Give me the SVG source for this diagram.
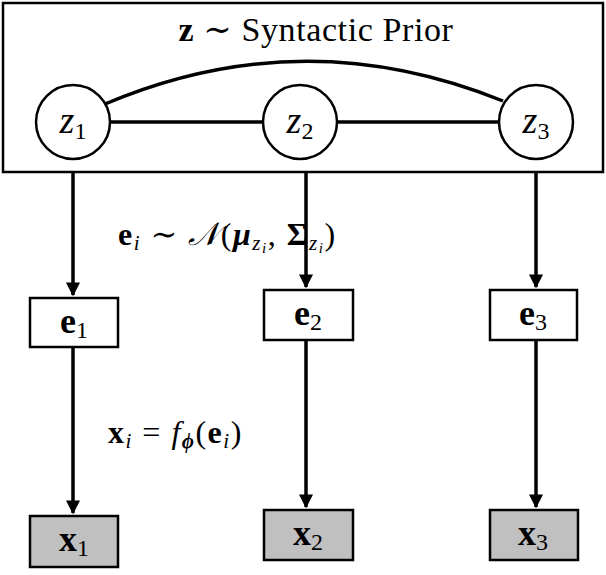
<svg xmlns="http://www.w3.org/2000/svg" width="606" height="575" viewBox="0 0 606 575">
<style>
text{font-family:"Liberation Serif","DejaVu Serif",serif;fill:#000}
.b{fill:#fff;stroke:#000;stroke-width:2.5}
.g{fill:#c0c0c0;stroke:#000;stroke-width:2.5}
.l{stroke:#000;stroke-width:3.5;fill:none}
.n{font-size:38px;font-style:italic}
.m{font-size:36px;font-weight:bold}
.s{font-size:24px}
.t{font-size:34px}
</style>
<defs><marker id="a" viewBox="0 0 10 10" refX="9" refY="5" markerWidth="4" markerHeight="4" orient="auto"><path d="M0,0L10,5L0,10z" fill="#000"/></marker></defs>
<rect x="3" y="3" width="600" height="169" fill="#fff" stroke="#000" stroke-width="2.5"/>
<text x="316" y="41" text-anchor="middle" class="t" letter-spacing="0.6"><tspan font-weight="bold">z</tspan> ∼ Syntactic Prior</text>
<g id="connectors">
<path class="l" d="M105,104 Q303,20 503,101"/>
<line class="l" x1="110" y1="122" x2="263" y2="122"/>
<line class="l" x1="337" y1="122" x2="499" y2="122"/>
<line class="l" x1="73" y1="172" x2="73" y2="295" marker-end="url(#a)"/>
<line class="l" x1="306" y1="172" x2="306" y2="287" marker-end="url(#a)"/>
<line class="l" x1="536" y1="172" x2="536" y2="287" marker-end="url(#a)"/>
<line class="l" x1="73" y1="347" x2="73" y2="513" marker-end="url(#a)"/>
<line class="l" x1="306" y1="340" x2="306" y2="507" marker-end="url(#a)"/>
<line class="l" x1="536" y1="340" x2="536" y2="507" marker-end="url(#a)"/>
</g>
<g id="z1"><circle class="b" cx="73" cy="122" r="37"/><text x="73" y="133" text-anchor="middle" class="n">z<tspan class="s" font-style="normal" dy="6">1</tspan></text></g>
<g id="z2"><circle class="b" cx="300" cy="122" r="37"/><text x="300" y="133" text-anchor="middle" class="n">z<tspan class="s" font-style="normal" dy="6">2</tspan></text></g>
<g id="z3"><circle class="b" cx="536" cy="122" r="37"/><text x="536" y="133" text-anchor="middle" class="n">z<tspan class="s" font-style="normal" dy="6">3</tspan></text></g>
<g id="e1"><rect class="b" x="30" y="298" width="88" height="49"/><text x="74" y="333" text-anchor="middle" class="m">e<tspan class="s" font-weight="normal" dy="5">1</tspan></text></g>
<g id="e2"><rect class="b" x="264" y="290" width="89" height="50"/><text x="308" y="325" text-anchor="middle" class="m">e<tspan class="s" font-weight="normal" dy="5">2</tspan></text></g>
<g id="e3"><rect class="b" x="490" y="290" width="87" height="50"/><text x="533" y="325" text-anchor="middle" class="m">e<tspan class="s" font-weight="normal" dy="5">3</tspan></text></g>
<g id="x1"><rect class="g" x="30" y="516" width="88" height="51"/><text x="74" y="551" text-anchor="middle" class="m">x<tspan class="s" font-weight="normal" dy="5">1</tspan></text></g>
<g id="x2"><rect class="g" x="264" y="510" width="89" height="50"/><text x="308" y="545" text-anchor="middle" class="m">x<tspan class="s" font-weight="normal" dy="5">2</tspan></text></g>
<g id="x3"><rect class="g" x="490" y="510" width="88" height="50"/><text x="533" y="545" text-anchor="middle" class="m">x<tspan class="s" font-weight="normal" dy="5">3</tspan></text></g>
<text x="118" y="245" font-size="32" letter-spacing="1.5"><tspan font-weight="bold">e</tspan><tspan font-size="21" font-style="italic" dy="5">i</tspan><tspan dy="-5"> ∼ </tspan><tspan font-style="italic">𝒩</tspan>(<tspan font-weight="bold" font-style="italic">μ</tspan><tspan font-size="21" font-style="italic" dy="5">z</tspan><tspan font-size="15" font-style="italic" dy="3">i</tspan><tspan dy="-8">, </tspan><tspan font-weight="bold">Σ</tspan><tspan font-size="21" font-style="italic" dy="5">z</tspan><tspan font-size="15" font-style="italic" dy="3">i</tspan><tspan dy="-8">)</tspan></text>
<text x="108" y="443" font-size="32" letter-spacing="1.5"><tspan font-weight="bold">x</tspan><tspan font-size="21" font-style="italic" dy="5">i</tspan><tspan dy="-5"> = </tspan><tspan font-style="italic">f</tspan><tspan font-size="21" font-weight="bold" font-style="italic" dy="5">ϕ</tspan><tspan dy="-5">(</tspan><tspan font-weight="bold">e</tspan><tspan font-size="21" font-style="italic" dy="5">i</tspan><tspan dy="-5">)</tspan></text>
</svg>
